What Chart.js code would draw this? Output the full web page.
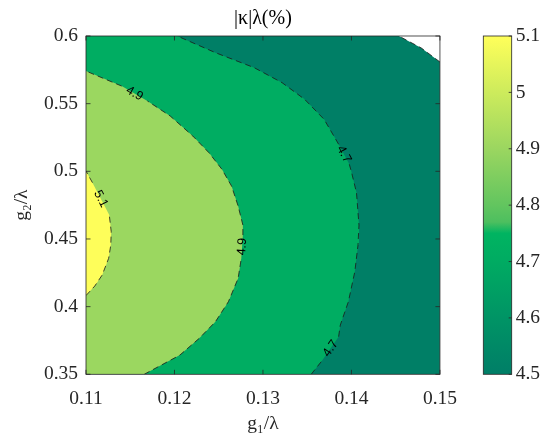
<!DOCTYPE html>
<html>
<head>
<meta charset="utf-8">
<script src="https://cdn.jsdelivr.net/npm/chart.js@4.4.1/dist/chart.umd.min.js"></script>
<style>
  html, body { margin: 0; padding: 0; background: #fff; }
  #wrap { position: relative; width: 550px; height: 446px; }
  #main { position: absolute; left: 0; top: 0; }
  #cbar { position: absolute; left: 440px; top: 0; }
</style>
</head>
<body>
<div id="wrap">
  <canvas id="main" width="470" height="446"></canvas>
  <canvas id="cbar" width="110" height="446"></canvas>
</div>
<script>
// Ejes y ticks
const xRange = [0.11, 0.15];
const yRange = [0.35, 0.6];
const xTicks = [0.11, 0.12, 0.13, 0.14, 0.15];
const xTickLabels = ['0.11', '0.12', '0.13', '0.14', '0.15'];
const yTicks = [0.35, 0.4, 0.45, 0.5, 0.55, 0.6];
const yTickLabels = ['0.35', '0.4', '0.45', '0.5', '0.55', '0.6'];
const cbTicks = [4.5, 4.6, 4.7, 4.8, 4.9, 5, 5.1];
const cbTickLabels = ['4.5', '4.6', '4.7', '4.8', '4.9', '5', '5.1'];

// Niveles de contorno y colores de cada banda
const levels = [4.5, 4.7, 4.9, 5.1];
const regionColors = ['#007f66', '#00ad62', '#9bd760', '#fefe5a'];

// Curvas de nivel (de abajo hacia arriba)
const c45x = [0.15, 0.1479, 0.14535];
const c45y = [0.5808, 0.5911, 0.6];

const c47x = [0.13545, 0.13673, 0.13855, 0.13874, 0.13965, 0.14038, 0.14074, 0.14085, 0.14057,
              0.14002, 0.13976, 0.13855, 0.13691, 0.13471, 0.13216, 0.12901, 0.12462, 0.12031];
const c47y = [0.35, 0.3605, 0.3778, 0.3864, 0.4036, 0.4258, 0.4455, 0.4603, 0.4842,
              0.4990, 0.5052, 0.5200, 0.5384, 0.5532, 0.5655, 0.5766, 0.5877, 0.6];

const c49x = [0.11658, 0.12061, 0.12280, 0.12462, 0.12609, 0.12719, 0.12755, 0.12773, 0.12773,
              0.12719, 0.12645, 0.12536, 0.12390, 0.12207, 0.11951, 0.11694, 0.11403, 0.11];
const c49y = [0.35, 0.3642, 0.3766, 0.3888, 0.4036, 0.4209, 0.4357, 0.4529, 0.4603,
              0.4744, 0.4891, 0.5015, 0.5137, 0.5261, 0.5409, 0.5520, 0.5630, 0.5741];

const c51x = [0.11, 0.11099, 0.11183, 0.11256, 0.11280, 0.11285, 0.11263, 0.11073, 0.11];
const c51y = [0.4082, 0.4152, 0.4234, 0.4357, 0.4455, 0.4554, 0.4677, 0.4916, 0.5002];

// Tramos donde se corta la línea para poner la etiqueta (índice del primer punto)
const gaps45 = [];
const gaps47 = [1, 10];
const gaps49 = [6, 15];
const gaps51 = [6];

// Colorbar
const cbStopValues = [4.5, 4.6, 4.7, 4.75, 4.77, 4.8, 4.9, 5.0, 5.1];
const cbStopColors = ['#007e67', '#009465', '#00ab62', '#00b461', '#4dbf5f',
                      '#62c55f', '#9bd660', '#cdeb5c', '#ffff5a'];

const serif = '"Liberation Serif", "Times New Roman", serif';
const axisColor = '#262626';
const tickFont = { family: serif, size: 19.5 };

const pts = (xs, ys) => xs.map((x, i) => ({ x, y: ys[i] }));
const [x0, x1] = xRange;
const [y0, y1] = yRange;

// Ticks hacia dentro y marco (estilo MATLAB)
const boxTicks = {
  id: 'boxTicks',
  afterDatasetsDraw(chart, args, opts) {
    const { ctx, chartArea: a } = chart;
    const len = opts.len || 4.5;
    const seg = (ax, ay, bx, by) => { ctx.beginPath(); ctx.moveTo(ax, ay); ctx.lineTo(bx, by); ctx.stroke(); };
    ctx.save();
    ctx.strokeStyle = axisColor;
    ctx.lineWidth = 0.8;
    if (opts.xTicks) {
      const sx = chart.scales.x;
      sx.ticks.forEach(t => {
        const px = sx.getPixelForValue(t.value);
        seg(px, a.bottom, px, a.bottom - len);
        seg(px, a.top, px, a.top + len);
      });
    }
    const sy = chart.scales.y;
    sy.ticks.forEach(t => {
      const py = sy.getPixelForValue(t.value);
      if (opts.left) seg(a.left, py, a.left + len, py);
      seg(a.right, py, a.right - len, py);
    });
    ctx.strokeRect(a.left, a.top, a.right - a.left, a.bottom - a.top);
    ctx.restore();
  }
};

// Etiquetas de nivel en los huecos de las curvas
const contourLabels = {
  id: 'contourLabels',
  afterDatasetsDraw(chart) {
    const { ctx } = chart;
    ctx.save();
    ctx.font = '12.5px "Liberation Sans", Arial, sans-serif';
    ctx.fillStyle = '#000';
    ctx.textAlign = 'center';
    ctx.textBaseline = 'middle';
    chart.data.datasets.forEach((ds, i) => {
      if (!ds.gaps) return;
      const points = chart.getDatasetMeta(i).data;
      ds.gaps.forEach(g => {
        const p0 = points[g], p1 = points[g + 1];
        let ang = Math.atan2(p1.y - p0.y, p1.x - p0.x);
        if (ang > Math.PI / 2) ang -= Math.PI;
        if (ang < -Math.PI / 2) ang += Math.PI;
        ctx.save();
        ctx.translate((p0.x + p1.x) / 2, (p0.y + p1.y) / 2);
        ctx.rotate(ang);
        ctx.fillText(String(ds.level), 0, 0);
        ctx.restore();
      });
    });
    ctx.restore();
  }
};

const lines = [
  [c51x, c51y, gaps51, levels[3]],
  [c49x, c49y, gaps49, levels[2]],
  [c47x, c47y, gaps47, levels[1]],
  [c45x, c45y, gaps45, levels[0]],
];

const fills = [
  { data: pts(c51x, c51y), color: regionColors[3] },
  { data: [{ x: x0, y: y0 }, ...pts(c49x, c49y)], color: regionColors[2] },
  { data: [{ x: x0, y: y0 }, ...pts(c47x, c47y), { x: x0, y: y1 }], color: regionColors[1] },
  { data: [{ x: x0, y: y0 }, { x: x1, y: y0 }, ...pts(c45x, c45y), { x: x0, y: y1 }], color: regionColors[0] },
];

const lineSets = lines.map(([xs, ys, gaps, level]) => ({
  data: pts(xs, ys),
  gaps, level,
  borderColor: '#1a1a1a',
  borderWidth: 0.8,
  borderDash: [6, 4],
  pointRadius: 0,
  tension: 0,
  fill: false,
  segment: { borderColor: c => gaps.includes(c.p0DataIndex) ? 'rgba(0,0,0,0)' : '#1a1a1a' }
}));

const fillSets = fills.map(f => ({
  data: f.data,
  backgroundColor: f.color,
  borderColor: 'rgba(0,0,0,0)',
  borderWidth: 0,
  pointRadius: 0,
  tension: 0,
  fill: 'shape'
}));

new Chart(document.getElementById('main'), {
  type: 'line',
  data: { datasets: [...lineSets, ...fillSets] },
  options: {
    responsive: false,
    animation: false,
    events: [],
    layout: { padding: { left: 0, right: 19.3, top: 0, bottom: 0 } },
    plugins: {
      legend: { display: false },
      tooltip: { enabled: false },
      title: {
        display: true, text: '|κ|λ(%)', fullSize: false, color: '#000',
        font: { family: serif, size: 20, weight: 'normal' },
        padding: { top: 7, bottom: 5 }
      },
      boxTicks: { len: 4.5, xTicks: true, left: true }
    },
    scales: {
      x: {
        type: 'linear', min: x0, max: x1,
        afterBuildTicks: s => { s.ticks = xTicks.map(v => ({ value: v })); },
        ticks: { callback: (v, i) => xTickLabels[i], font: tickFont, color: axisColor, padding: 13, maxRotation: 0, autoSkip: false },
        grid: { display: false, drawTicks: false },
        border: { display: false },
        title: { display: true, text: 'g₁/λ', color: axisColor, font: tickFont, padding: { top: 0, bottom: 10.5 } },
        afterFit: s => { s.height = 71.7; }
      },
      y: {
        type: 'linear', min: y0, max: y1,
        afterBuildTicks: s => { s.ticks = yTicks.map(v => ({ value: v })); },
        ticks: { callback: (v, i) => yTickLabels[i], font: tickFont, color: axisColor, padding: 8, autoSkip: false },
        grid: { display: false, drawTicks: false },
        border: { display: false },
        title: { display: true, text: 'g₂/λ', color: axisColor, font: tickFont, padding: { top: 9.8, bottom: 0 } },
        afterFit: s => { s.width = 86; }
      }
    }
  },
  plugins: [contourLabels, boxTicks]
});

// Barra de color
function cbGradient(c) {
  const chart = c.chart;
  if (!chart.chartArea) return cbStopColors[0];
  const sy = chart.scales.y;
  const lo = cbStopValues[0], hi = cbStopValues[cbStopValues.length - 1];
  const g = chart.ctx.createLinearGradient(0, sy.getPixelForValue(lo), 0, sy.getPixelForValue(hi));
  cbStopValues.forEach((v, i) => g.addColorStop((v - lo) / (hi - lo), cbStopColors[i]));
  return g;
}

new Chart(document.getElementById('cbar'), {
  type: 'bar',
  data: {
    labels: [''],
    datasets: [{
      data: [[cbTicks[0], cbTicks[cbTicks.length - 1]]],
      backgroundColor: cbGradient,
      borderWidth: 0,
      barPercentage: 1,
      categoryPercentage: 1
    }]
  },
  options: {
    responsive: false,
    animation: false,
    events: [],
    layout: { padding: { left: 43.3, right: 0, top: 36, bottom: 71.7 } },
    plugins: {
      legend: { display: false },
      tooltip: { enabled: false },
      boxTicks: { len: 3, xTicks: false, left: false }
    },
    scales: {
      x: { display: false },
      y: {
        position: 'right', min: cbTicks[0], max: cbTicks[cbTicks.length - 1],
        afterBuildTicks: s => { s.ticks = cbTicks.map(v => ({ value: v })); },
        ticks: { callback: (v, i) => cbTickLabels[i], font: tickFont, color: axisColor, padding: 4, autoSkip: false },
        grid: { display: false, drawTicks: false },
        border: { display: false },
        afterFit: s => { s.width = 38.3; }
      }
    }
  },
  plugins: [boxTicks]
});
</script>
</body>
</html>
